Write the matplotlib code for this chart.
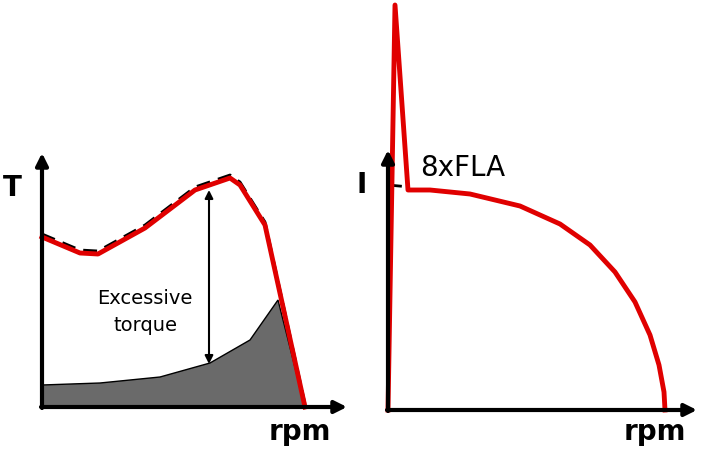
import matplotlib.pyplot as plt

# values, in pixel units of the original image
torque_x = [42, 80, 98, 145, 195, 230, 240, 265, 305]
torque_y = [237, 253, 254, 228, 190, 178, 185, 225, 407]
load_x = [42, 100, 160, 210, 250, 278, 305, 42]
load_y = [385, 383, 377, 363, 340, 300, 407, 407]
cur_x = [388, 395, 408, 430, 470, 520, 560, 590, 615, 635, 650, 659, 664, 665]
cur_y = [410, 5, 190, 190, 194, 206, 224, 245, 272, 302, 335, 365, 392, 410]

fig = plt.figure(figsize=(7.05, 4.51), dpi=100)
ax = fig.add_axes([0, 0, 1, 1])
ax.set_xlim(0, 705)
ax.set_ylim(451, 0)
ax.axis('off')

arrow = dict(arrowstyle='-|>', color='black', lw=3, mutation_scale=18, shrinkA=0, shrinkB=0)

# left panel
ax.fill(load_x, load_y, color='#6a6a6a', edgecolor='black', lw=1)
ax.plot(torque_x, [y - 3 for y in torque_y], color='black', lw=2, ls=(0, (5, 3)))
ax.plot(torque_x, torque_y, color='#e00000', lw=3.5)
ax.annotate('', xy=(42, 153), xytext=(42, 408), arrowprops=arrow)
ax.annotate('', xy=(347, 407), xytext=(41, 407), arrowprops=arrow)
ax.annotate('', xy=(209, 190), xytext=(209, 364),
            arrowprops=dict(arrowstyle='<|-|>', color='black', lw=1.5, mutation_scale=12,
                            shrinkA=0, shrinkB=0))
ax.text(145, 312, 'Excessive\ntorque', ha='center', va='center', fontsize=14, linespacing=1.5)
ax.text(12, 188, 'T', ha='center', va='center', fontsize=20, fontweight='bold')
ax.text(300, 432, 'rpm', ha='center', va='center', fontsize=20, fontweight='bold')

# right panel
ax.plot([388, 410], [185, 187], color='black', lw=2, ls=(0, (5, 3)))
ax.plot(cur_x, cur_y, color='#e00000', lw=3.5)
ax.annotate('', xy=(388, 150), xytext=(388, 411), arrowprops=arrow)
ax.annotate('', xy=(697, 410), xytext=(387, 410), arrowprops=arrow)
ax.text(420, 168, '8xFLA', ha='left', va='center', fontsize=20)
ax.text(362, 185, 'I', ha='center', va='center', fontsize=20, fontweight='bold')
ax.text(655, 432, 'rpm', ha='center', va='center', fontsize=20, fontweight='bold')

fig.savefig('out.png', dpi=100)
